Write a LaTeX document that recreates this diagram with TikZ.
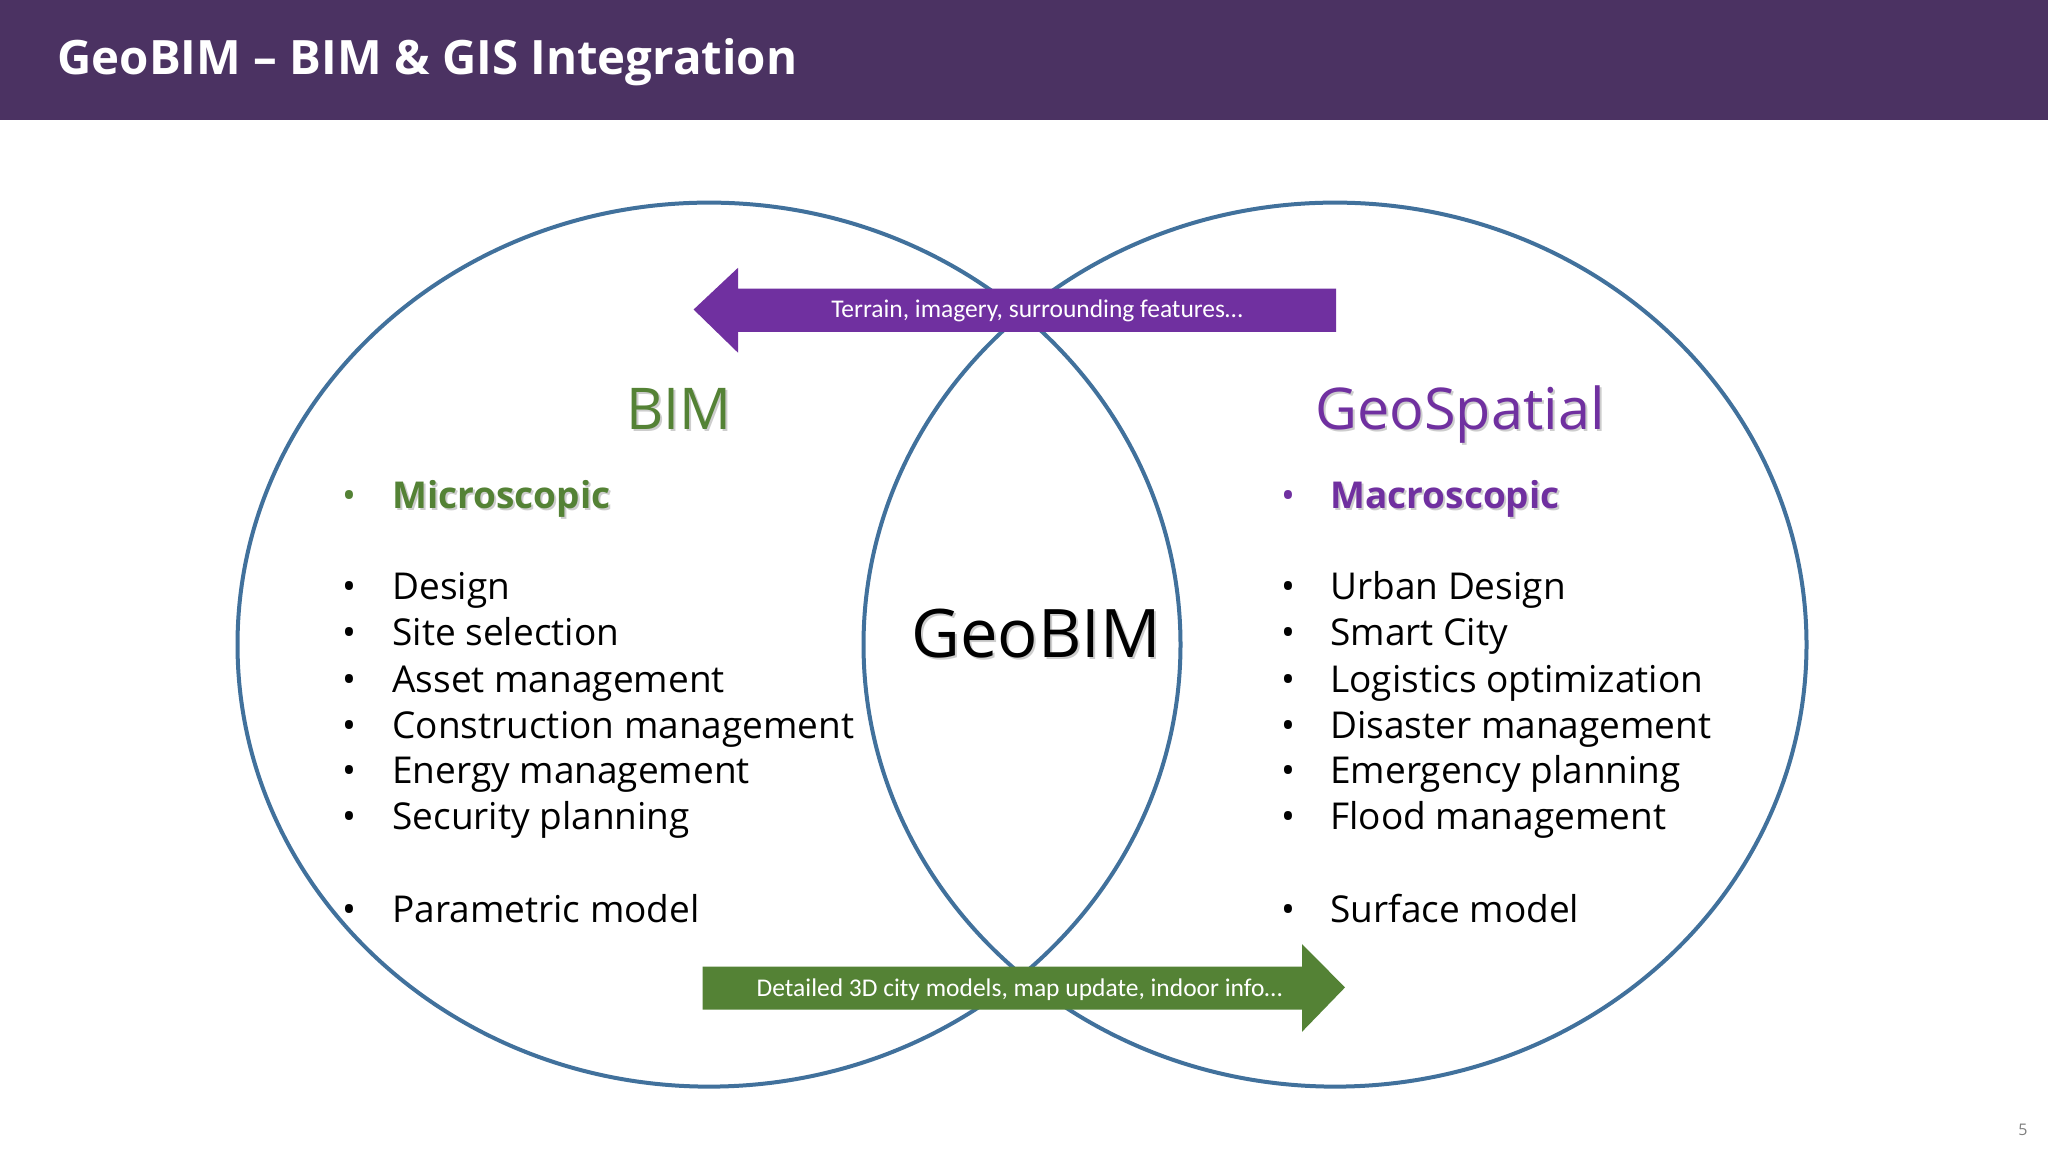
\documentclass[tikz,border=0pt]{standalone}
\usepackage{fontspec}
\setmainfont{Open Sans}
\newfontfamily\calib{Carlito}
\definecolor{hdr}{RGB}{75,50,98}
\definecolor{ring}{RGB}{65,113,156}
\definecolor{bimgreen}{RGB}{84,130,53}
\definecolor{geopurple}{RGB}{112,48,160}
\definecolor{shadowgray}{RGB}{205,205,205}
\newcommand{\fs}[1]{\fontsize{#1}{1.2\dimexpr #1\relax}\selectfont}
\tikzset{
  ringline/.style={draw=ring, line width=2pt},
  fixh/.style={text height=0.75em, text depth=0.25em},
  listtxt/.style={anchor=west, inner sep=0pt, font=\fs{18.5pt}, fixh},
  bul/.style={inner sep=0pt, font=\fs{18.5pt}, fixh},
  arrowlbl/.style={inner sep=0pt, text=white, font=\calib\fs{12.75pt}},
  heading/.style={font=\fs{28.8pt}, fixh},
}
\begin{document}
\begin{tikzpicture}[x=0.5pt, y=-0.5pt]
\fill[white] (0,0) rectangle (2048,1152);
\useasboundingbox (0,0) rectangle (2048,1152);
% header
\fill[hdr] (0,0) rectangle (2048,120);
\node[anchor=west, inner sep=0pt, text=white, font=\bfseries\fs{23.7pt}] (title) at (57,62) {GeoBIM – BIM \& GIS Integration};
% ellipses
\draw[ringline] (709,644.6) ellipse [x radius=471.5, y radius=442];
\draw[ringline] (1335,644.6) ellipse [x radius=471.5, y radius=442];
% top arrow (purple, leftwards)
\fill[geopurple] (693.6,309.5) -- (738,267.8) -- (738,288.7) -- (1336,288.7) -- (1336,331.8) -- (738,331.8) -- (738,352.7) -- cycle;
\node[arrowlbl] (toplbl) at (1037,310.5) {Terrain, imagery, surrounding features…};
% bottom arrow (green, rightwards)
\fill[bimgreen] (702.7,966.5) -- (1302,966.5) -- (1302,944) -- (1345,987.4) -- (1302,1031.8) -- (1302,1009.6) -- (702.7,1009.6) -- cycle;
\node[arrowlbl] (botlbl) at (1019.5,990) {Detailed 3D city models, map update, indoor info…};
% headings
\node[heading, text=shadowgray] at (681,426) {BIM};
\node[heading, text=bimgreen] (bim) at (679,424) {BIM};
\node[heading, text=shadowgray] at (1462,426) {GeoSpatial};
\node[heading, text=geopurple] (geo) at (1460,424) {GeoSpatial};
\node[text=shadowgray, font=\fs{33.5pt}] at (1038,635.5) {GeoBIM};
\node[text=black, font=\fs{33.5pt}] (geobim) at (1036,633.5) {GeoBIM};
% left list
\node[bul, text=bimgreen] (lb0) at (349,503) {•};
\node[listtxt, text=shadowgray, font=\bfseries\fs{18.5pt}] at (394,505) {Microscopic};
\node[listtxt, text=bimgreen, font=\bfseries\fs{18.5pt}] (lt0) at (392,503) {Microscopic};
\foreach \t/\yy [count=\i] in {Design/594, Site selection/640, Asset management/687, Construction management/733, Energy management/778, Security planning/824, Parametric model/917}{
  \node[bul] (lb\i) at (349,\yy) {•};
  \node[listtxt] (lt\i) at (392,\yy) {\t};
}
% right list
\node[bul, text=geopurple] (rb0) at (1288,503) {•};
\node[listtxt, text=shadowgray, font=\bfseries\fs{18.5pt}] at (1332,505) {Macroscopic};
\node[listtxt, text=geopurple, font=\bfseries\fs{18.5pt}] (rt0) at (1330,503) {Macroscopic};
\foreach \t/\yy [count=\i] in {Urban Design/594, Smart City/640, Logistics optimization/687, Disaster management/733, Emergency planning/778, Flood management/824, Surface model/917}{
  \node[bul] (rb\i) at (1288,\yy) {•};
  \node[listtxt] (rt\i) at (1330,\yy) {\t};
}
% page number
\node[text=gray, font=\fs{8pt}] (pg) at (2023,1130) {5};
\end{tikzpicture}
\end{document}
